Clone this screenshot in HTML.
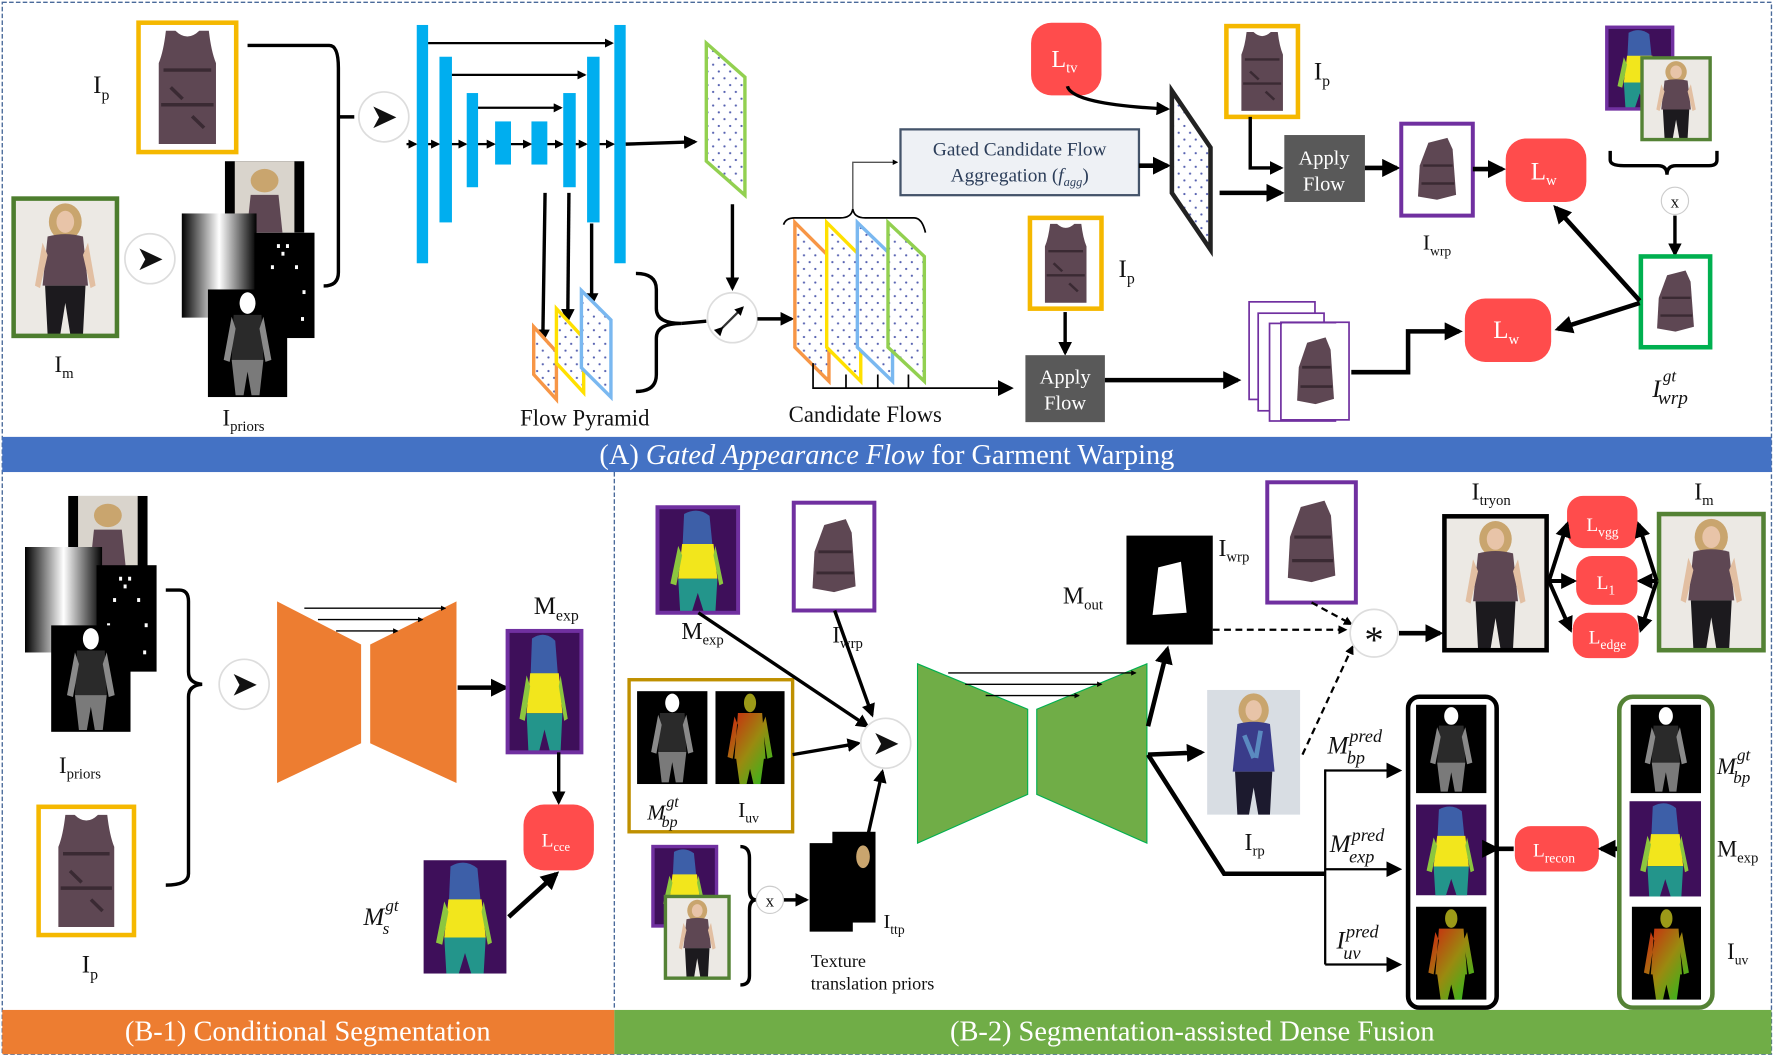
<!DOCTYPE html>
<html><head><meta charset="utf-8"><style>
html,body{margin:0;padding:0;background:#fff;width:1776px;height:1061px;overflow:hidden}
svg{display:block}
text{font-family:"Liberation Serif",serif;fill:#111}
</style></head><body>
<svg width="1776" height="1061" viewBox="0 0 1564 935" preserveAspectRatio="none" xmlns="http://www.w3.org/2000/svg">
<defs>
<marker id="a" viewBox="0 0 10 10" refX="8" refY="5" markerWidth="4" markerHeight="4" orient="auto"><path d="M0,0L10,5L0,10z" fill="#000"/></marker>
<marker id="s" viewBox="0 0 10 10" refX="8" refY="5" markerWidth="7" markerHeight="7" orient="auto"><path d="M0,0L10,5L0,10z" fill="#000"/></marker>
<linearGradient id="uvg" x1="0" y1="0" x2="1" y2="1"><stop offset="0" stop-color="#d02010"/><stop offset=".5" stop-color="#9a8a10"/><stop offset="1" stop-color="#20c020"/></linearGradient>
<linearGradient id="wg" x1="0" x2="1"><stop offset="0" stop-color="#000"/><stop offset=".5" stop-color="#fff"/><stop offset="1" stop-color="#000"/></linearGradient>
<symbol id="garm" viewBox="0 0 80 110" preserveAspectRatio="none"><rect width="80" height="110" fill="#fff"/><path d="M22,6 L30,6 Q40,16 50,6 L58,6 Q60,24 64,34 L64,104 L16,104 L16,34 Q20,24 22,6z" fill="#5e4753"/><path d="M20,40 H60 M18,70 H62 M26,55 l10,10 M44,80 l10,10" stroke="#3a2a33" stroke-width="3"/></symbol>
<symbol id="model" viewBox="0 0 80 110" preserveAspectRatio="none"><rect width="80" height="110" fill="#ece9e4"/><ellipse cx="40" cy="18" rx="13" ry="15" fill="#c9a56e"/><ellipse cx="40" cy="18" rx="7" ry="9" fill="#e8c4a8"/><path d="M26,30 Q40,26 54,30 L58,70 L22,70z" fill="#5e4753"/><path d="M22,35 L16,70 L20,72 L26,45z M58,35 L64,70 L60,72 L54,45z" fill="#e2bfa2"/><path d="M24,70 H56 L54,110 H44 L40,84 L36,110 H26z" fill="#1c1a1e"/></symbol>
<symbol id="modelb" viewBox="0 0 80 110" preserveAspectRatio="none"><rect width="80" height="110" fill="#d8dde3"/><ellipse cx="40" cy="18" rx="13" ry="15" fill="#c9a56e"/><ellipse cx="40" cy="18" rx="7" ry="9" fill="#e8c4a8"/><path d="M26,30 Q40,26 54,30 L58,72 L22,72z" fill="#3a3c8a"/><path d="M32,40 l8,20 M46,36 l-4,24" stroke="#5a8ac0" stroke-width="4"/><path d="M24,72 H56 L54,110 H44 L40,86 L36,110 H26z" fill="#1c1a2e"/></symbol>
<symbol id="seg" viewBox="0 0 80 110" preserveAspectRatio="none"><rect width="80" height="110" fill="#3e0f5a"/><path d="M26,6 Q40,-2 52,8 L56,50 L24,50z" fill="#3d5fa8"/><path d="M24,38 L56,38 L60,75 L20,75z" fill="#f2e61c"/><path d="M20,40 L12,80 L18,82 L24,50z M58,40 L66,80 L62,82 L56,50z" fill="#8cc63f"/><path d="M20,75 H60 L58,110 H46 L40,90 L34,110 H22z" fill="#23958b"/></symbol>
<symbol id="sil" viewBox="0 0 80 110" preserveAspectRatio="none"><rect width="80" height="110" fill="#000"/><ellipse cx="40" cy="14" rx="8" ry="11" fill="#fff"/><path d="M26,26 H54 L56,72 L24,72z" fill="#2a2a2a"/><path d="M24,28 L16,72 L22,74 L28,40z M56,28 L64,72 L58,74 L52,40z" fill="#8a8a8a"/><path d="M24,72 H56 L52,108 H44 L40,84 L36,108 H28z" fill="#7a7a7a"/></symbol>
<symbol id="uv" viewBox="0 0 80 110" preserveAspectRatio="none"><rect width="80" height="110" fill="#000"/><ellipse cx="40" cy="14" rx="7" ry="11" fill="#9c9a18"/><path d="M26,26 H54 L58,80 L22,80z M22,30 L14,78 L20,80 L26,40z M58,30 L66,78 L60,80 L54,40z M24,80 H56 L52,110 H44 L40,92 L36,110 H28z" fill="url(#uvg)"/></symbol>
<symbol id="warp" viewBox="0 0 80 110" preserveAspectRatio="none"><rect width="80" height="110" fill="#fff"/><path d="M30,22 L52,16 L58,30 L62,86 L40,92 L18,88 L20,50z" fill="#5e4753"/><path d="M24,50 H58 M22,72 H60" stroke="#3a2a33" stroke-width="3"/></symbol>
<symbol id="photo" viewBox="0 0 80 110" preserveAspectRatio="none"><rect width="80" height="110" fill="#000"/><rect x="10" y="0" width="60" height="110" fill="#d9d4cc"/><ellipse cx="40" cy="30" rx="14" ry="18" fill="#c9a56e"/><path d="M26,52 H54 L58,110 H22z" fill="#5e4753"/></symbol>
<symbol id="dots" viewBox="0 0 80 110" preserveAspectRatio="none"><rect width="80" height="110" fill="#000"/><g fill="#fff"><rect x="30" y="12" width="4" height="4"/><rect x="42" y="12" width="4" height="4"/><rect x="36" y="20" width="4" height="4"/><rect x="22" y="34" width="4" height="4"/><rect x="54" y="34" width="4" height="4"/><rect x="14" y="60" width="4" height="4"/><rect x="64" y="60" width="4" height="4"/><rect x="36" y="70" width="4" height="4"/><rect x="62" y="88" width="4" height="4"/></g></symbol>
<symbol id="grad" viewBox="0 0 80 110" preserveAspectRatio="none"><rect width="80" height="110" fill="url(#wg)"/></symbol>
<pattern id="dp" width="10" height="12" patternUnits="userSpaceOnUse"><rect width="10" height="12" fill="#fff"/><circle cx="3" cy="3" r="1" fill="#5560b0"/><circle cx="8" cy="9" r="1" fill="#5560b0"/></pattern>
</defs>

<!-- borders / bars -->
<rect x="2" y="2" width="1558" height="927" fill="none" stroke="#4a6a9a" stroke-width="1.2" stroke-dasharray="4,2"/>
<line x1="541" y1="416" x2="541" y2="890" stroke="#4a6a9a" stroke-width="1.2" stroke-dasharray="4,2"/>
<rect x="2" y="385" width="1558" height="31" fill="#4472C4"/>
<text x="781" y="409" font-size="25" text-anchor="middle" style="fill:#fff">(A) <tspan font-style="italic" style="fill:#fff">Gated Appearance Flow</tspan> for Garment Warping</text>
<rect x="2" y="890" width="539" height="39" fill="#ED7D31"/>
<text x="271" y="917" font-size="25" text-anchor="middle" style="fill:#fff">(B-1) Conditional Segmentation</text>
<rect x="541" y="890" width="1019" height="39" fill="#70AD47"/>
<text x="1050" y="917" font-size="25" text-anchor="middle" style="fill:#fff">(B-2) Segmentation-assisted Dense Fusion</text>

<!-- ===== Section A ===== -->
<use href="#garm" x="123" y="21" width="84" height="112"/>
<rect x="122" y="20" width="86" height="114" fill="none" stroke="#f5b800" stroke-width="4"/>
<text x="82" y="82" font-size="22">I<tspan font-size="14" dy="6">p</tspan></text>
<use href="#model" x="13" y="176" width="89" height="119"/>
<rect x="12" y="175" width="91" height="121" fill="none" stroke="#4d7d2e" stroke-width="4"/>
<text x="48" y="328" font-size="20">I<tspan font-size="13" dy="5">m</tspan></text>
<circle cx="132" cy="228" r="22" fill="#fff" stroke="#ddd" stroke-width="1.5"/>
<text x="132" y="238" font-size="30" text-anchor="middle">➤</text>
<use href="#photo" x="198" y="142" width="70" height="63"/>
<use href="#grad" x="160" y="188" width="66" height="92"/>
<use href="#dots" x="224" y="205" width="53" height="93"/>
<use href="#sil" x="183" y="255" width="70" height="95"/>
<text x="196" y="375" font-size="20">I<tspan font-size="13" dy="5">priors</tspan></text>
<path d="M218,40 H290 Q298,40 298,60 V240 Q298,252 285,252" fill="none" stroke="#000" stroke-width="3"/>
<path d="M298,103 H312" stroke="#000" stroke-width="3"/>
<circle cx="338" cy="103" r="22" fill="#fff" stroke="#ddd" stroke-width="1.5"/>
<text x="338" y="113" font-size="30" text-anchor="middle">➤</text>
<!-- UNet blue -->
<g fill="#00AEEF">
<rect x="367" y="22" width="10" height="210"/><rect x="387" y="50" width="11" height="146"/><rect x="411" y="82" width="10" height="83"/><rect x="436" y="107" width="14" height="38"/>
<rect x="468" y="107" width="14" height="38"/><rect x="496" y="82" width="11" height="83"/><rect x="517" y="50" width="11" height="146"/><rect x="541" y="22" width="10" height="210"/></g>
<g stroke="#000" stroke-width="2" marker-end="url(#a)">
<line x1="377" y1="38" x2="539" y2="38"/><line x1="398" y1="66" x2="515" y2="66"/><line x1="421" y1="95" x2="494" y2="95"/>
<line x1="358" y1="127" x2="366" y2="127"/><line x1="377" y1="127" x2="386" y2="127"/><line x1="398" y1="127" x2="410" y2="127"/><line x1="421" y1="127" x2="435" y2="127"/><line x1="450" y1="127" x2="467" y2="127"/><line x1="482" y1="127" x2="495" y2="127"/><line x1="507" y1="127" x2="516" y2="127"/><line x1="528" y1="127" x2="540" y2="127"/>
</g>
<line x1="551" y1="127" x2="612" y2="125" stroke="#000" stroke-width="3" marker-end="url(#a)"/>
<polygon points="622,38 656,68 656,172 622,142" fill="url(#dp)" stroke="#92d050" stroke-width="3"/>
<!-- flow pyramid -->
<g stroke="#000" stroke-width="3" marker-end="url(#a)"><line x1="480" y1="170" x2="478" y2="300"/><line x1="501" y1="170" x2="500" y2="282"/><line x1="521" y1="197" x2="521" y2="268"/></g>
<polygon points="470,288 490,310 490,352 470,330" fill="url(#dp)" stroke="#f79646" stroke-width="3"/>
<polygon points="490,272 514,298 514,346 490,320" fill="url(#dp)" stroke="#ffe000" stroke-width="3"/>
<polygon points="512,256 538,282 538,350 512,324" fill="url(#dp)" stroke="#7ab8f0" stroke-width="3"/>
<path d="M560,241 Q578,241 578,255 V272 Q578,285 600,285 Q578,285 578,298 V330 Q578,345 560,345" fill="none" stroke="#000" stroke-width="3"/>
<text x="515" y="375" font-size="20" text-anchor="middle">Flow Pyramid</text>
<line x1="600" y1="285" x2="622" y2="283" stroke="#000" stroke-width="3"/>
<line x1="645" y1="180" x2="645" y2="254" stroke="#000" stroke-width="3" marker-end="url(#a)"/>
<circle cx="645" cy="280" r="22" fill="#fff" stroke="#ddd" stroke-width="1.5"/>
<path d="M636,289 L654,271" stroke="#333" stroke-width="2" marker-end="url(#a)" marker-start="url(#a)"/>
<line x1="667" y1="281" x2="697" y2="281" stroke="#000" stroke-width="3" marker-end="url(#a)"/>
<!-- candidate flows -->
<polygon points="700,196 730,226 730,336 700,306" fill="url(#dp)" stroke="#f79646" stroke-width="3"/>
<polygon points="728,196 758,226 758,336 728,306" fill="url(#dp)" stroke="#ffe000" stroke-width="3"/>
<polygon points="755,196 786,226 786,336 755,306" fill="url(#dp)" stroke="#7ab8f0" stroke-width="3"/>
<polygon points="782,196 814,226 814,336 782,306" fill="url(#dp)" stroke="#92d050" stroke-width="3"/>
<path d="M690,198 Q692,192 700,192 H740 Q750,192 751,184 Q752,192 762,192 H805 Q812,192 815,205" fill="none" stroke="#000" stroke-width="1.5"/>
<path d="M751,184 V143 H790" fill="none" stroke="#555" stroke-width="1.2" marker-end="url(#a)"/>
<path d="M716,320 V342 H888 M745,330 V342 M773,330 V342 M800,330 V342" fill="none" stroke="#000" stroke-width="1.5"/>
<line x1="880" y1="342" x2="890" y2="342" stroke="#000" stroke-width="2" marker-end="url(#s)"/>
<text x="762" y="372" font-size="20" text-anchor="middle">Candidate Flows</text>
<rect x="793" y="114" width="210" height="58" fill="#eef1f5" stroke="#44546a" stroke-width="2"/>
<text x="898" y="137" font-size="17" text-anchor="middle" style="fill:#2c3e5a">Gated Candidate Flow</text>
<text x="898" y="160" font-size="17" text-anchor="middle" style="fill:#2c3e5a">Aggregation (<tspan font-style="italic" style="fill:#2c3e5a">f<tspan font-size="11" dy="4" style="fill:#2c3e5a">agg</tspan></tspan><tspan dy="-4" style="fill:#2c3e5a">)</tspan></text>
<line x1="1003" y1="146" x2="1028" y2="146" stroke="#000" stroke-width="4" marker-end="url(#a)"/>
<polygon points="1032,80 1066,130 1066,220 1032,170" fill="url(#dp)" stroke="#222" stroke-width="4"/>
<rect x="908" y="20" width="62" height="64" rx="18" fill="#ff4c4c"/>
<text x="926" y="59" font-size="21" style="fill:#fff">L<tspan font-size="13" dy="5" style="fill:#fff">tv</tspan></text>
<path d="M940,76 Q944,92 1028,96" fill="none" stroke="#000" stroke-width="3" marker-end="url(#a)"/>
<use href="#garm" x="1081" y="24" width="61" height="78"/>
<rect x="1080" y="23" width="63" height="80" fill="none" stroke="#f5b800" stroke-width="4"/>
<text x="1157" y="70" font-size="22">I<tspan font-size="14" dy="6">p</tspan></text>
<path d="M1101,103 V148 H1128" fill="none" stroke="#000" stroke-width="3" marker-end="url(#a)"/>
<line x1="1074" y1="170" x2="1128" y2="170" stroke="#000" stroke-width="4" marker-end="url(#a)"/>
<rect x="1131" y="119" width="71" height="59" fill="#595959"/>
<text x="1166" y="145" font-size="18" text-anchor="middle" style="fill:#fff">Apply</text>
<text x="1166" y="168" font-size="18" text-anchor="middle" style="fill:#fff">Flow</text>
<line x1="1202" y1="148" x2="1230" y2="148" stroke="#000" stroke-width="4" marker-end="url(#a)"/>
<use href="#warp" x="1235" y="110" width="61" height="79"/>
<rect x="1234" y="109" width="63" height="81" fill="none" stroke="#7030a0" stroke-width="3.5"/>
<text x="1253" y="220" font-size="19">I<tspan font-size="12" dy="5">wrp</tspan></text>
<line x1="1297" y1="149" x2="1323" y2="149" stroke="#000" stroke-width="4" marker-end="url(#a)"/>
<rect x="1326" y="122" width="71" height="56" rx="18" fill="#ff4c4c"/>
<text x="1348" y="158" font-size="22" style="fill:#fff">L<tspan font-size="13" dy="5" style="fill:#fff">w</tspan></text>
<!-- top right -->
<use href="#seg" x="1416" y="25" width="56" height="70"/>
<rect x="1415" y="24" width="58" height="72" fill="none" stroke="#7030a0" stroke-width="3"/>
<use href="#model" x="1447" y="52" width="58" height="70"/>
<rect x="1446" y="51" width="60" height="72" fill="none" stroke="#548235" stroke-width="3"/>
<path d="M1418,133 V141 Q1418,146 1430,146 H1460 Q1468,146 1468,154 Q1468,146 1476,146 H1505 Q1512,146 1512,141 V133" fill="none" stroke="#000" stroke-width="3"/>
<circle cx="1475" cy="177" r="12" fill="#fff" stroke="#ccc"/>
<text x="1475" y="183" font-size="15" text-anchor="middle" font-family="Liberation Sans">x</text>
<line x1="1475" y1="190" x2="1475" y2="224" stroke="#000" stroke-width="3" marker-end="url(#a)"/>
<use href="#warp" x="1446" y="227" width="59" height="78"/>
<rect x="1445" y="226" width="61" height="80" fill="none" stroke="#00b050" stroke-width="4"/>
<text x="1455" y="350" font-size="22" font-style="italic">I<tspan font-size="15" dx="2" dy="-14">gt</tspan><tspan font-size="17" dx="-16" dy="20">wrp</tspan></text>
<line x1="1444" y1="265" x2="1370" y2="183" stroke="#000" stroke-width="4" marker-end="url(#a)"/>
<line x1="1444" y1="267" x2="1372" y2="290" stroke="#000" stroke-width="4" marker-end="url(#a)"/>
<rect x="1290" y="263" width="76" height="56" rx="18" fill="#ff4c4c"/>
<text x="1315" y="298" font-size="22" style="fill:#fff">L<tspan font-size="13" dy="5" style="fill:#fff">w</tspan></text>
<use href="#garm" x="908" y="193" width="61" height="78"/>
<rect x="907" y="192" width="63" height="80" fill="none" stroke="#f5b800" stroke-width="4"/>
<text x="985" y="244" font-size="22">I<tspan font-size="14" dy="6">p</tspan></text>
<line x1="938" y1="275" x2="938" y2="311" stroke="#000" stroke-width="3" marker-end="url(#a)"/>
<rect x="903" y="313" width="70" height="59" fill="#595959"/>
<text x="938" y="338" font-size="18" text-anchor="middle" style="fill:#fff">Apply</text>
<text x="938" y="361" font-size="18" text-anchor="middle" style="fill:#fff">Flow</text>
<line x1="973" y1="335" x2="1090" y2="335" stroke="#000" stroke-width="4" marker-end="url(#a)"/>
<g stroke="#7030a0" stroke-width="1.5"><rect x="1100" y="266" width="58" height="86" fill="#fff"/><rect x="1108" y="276" width="58" height="86" fill="#fff"/><rect x="1118" y="285" width="58" height="86" fill="#fff"/></g>
<use href="#warp" x="1129" y="285" width="59" height="85"/>
<rect x="1128" y="284" width="60" height="86" fill="none" stroke="#7030a0" stroke-width="1.5"/>
<path d="M1190,328 H1240 V292 H1285" fill="none" stroke="#000" stroke-width="4" marker-end="url(#a)"/>

<!-- ===== B-1 ===== -->
<use href="#photo" x="60" y="437" width="70" height="63"/>
<use href="#grad" x="22" y="482" width="68" height="93"/>
<use href="#dots" x="85" y="498" width="53" height="94"/>
<use href="#sil" x="45" y="551" width="70" height="94"/>
<text x="52" y="681" font-size="20">I<tspan font-size="13" dy="5">priors</tspan></text>
<use href="#garm" x="35" y="712" width="82" height="111"/>
<rect x="34" y="711" width="84" height="113" fill="none" stroke="#f5b800" stroke-width="4"/>
<text x="72" y="857" font-size="22">I<tspan font-size="14" dy="6">p</tspan></text>
<path d="M146,520 H158 Q166,520 166,530 V592 Q166,602 178,603 Q166,604 166,614 V770 Q166,780 146,780" fill="none" stroke="#000" stroke-width="3"/>
<circle cx="215" cy="603" r="22" fill="#fff" stroke="#ddd" stroke-width="1.5"/>
<text x="215" y="613" font-size="30" text-anchor="middle">➤</text>
<polygon points="244,530 318,568 318,655 244,690" fill="#ED7D31"/>
<polygon points="402,530 326,568 326,655 402,690" fill="#ED7D31"/>
<g stroke="#000" stroke-width="1.2" marker-end="url(#a)"><line x1="268" y1="536" x2="392" y2="536"/><line x1="280" y1="546" x2="372" y2="546"/><line x1="296" y1="556" x2="350" y2="556"/></g>
<line x1="403" y1="606" x2="445" y2="606" stroke="#000" stroke-width="4" marker-end="url(#a)"/>
<use href="#seg" x="448" y="557" width="63" height="105"/>
<rect x="447" y="556" width="65" height="107" fill="none" stroke="#7030a0" stroke-width="3.5"/>
<text x="470" y="541" font-size="22">M<tspan font-size="14" dy="6">exp</tspan></text>
<line x1="492" y1="663" x2="492" y2="707" stroke="#000" stroke-width="3" marker-end="url(#a)"/>
<rect x="461" y="709" width="62" height="58" rx="18" fill="#ff4c4c"/>
<text x="477" y="746" font-size="17" style="fill:#fff">L<tspan font-size="11" dy="4" style="fill:#fff">cce</tspan></text>
<use href="#seg" x="373" y="758" width="73" height="100"/>
<text x="320" y="815" font-size="22" font-style="italic">M<tspan font-size="15" dx="1" dy="-12">gt</tspan><tspan font-size="15" dx="-14" dy="20">s</tspan></text>
<line x1="448" y1="808" x2="490" y2="770" stroke="#000" stroke-width="4" marker-end="url(#a)"/>

<!-- ===== B-2 ===== -->
<use href="#seg" x="580" y="448" width="69" height="91"/>
<rect x="579" y="447" width="71" height="93" fill="none" stroke="#7030a0" stroke-width="3.5"/>
<text x="600" y="563" font-size="21">M<tspan font-size="13" dy="5">exp</tspan></text>
<use href="#warp" x="700" y="444" width="69" height="93"/>
<rect x="699" y="443" width="71" height="95" fill="none" stroke="#7030a0" stroke-width="3.5"/>
<text x="733" y="566" font-size="20">I<tspan font-size="13" dy="5">wrp</tspan></text>
<rect x="554" y="599" width="144" height="134" fill="none" stroke="#bf9000" stroke-width="3"/>
<use href="#sil" x="561" y="609" width="62" height="82"/>
<use href="#uv" x="630" y="609" width="61" height="82"/>
<text x="570" y="722" font-size="19" font-style="italic">M<tspan font-size="14" dx="1" dy="-11">gt</tspan><tspan font-size="14" dx="-15" dy="18">bp</tspan></text>
<text x="650" y="720" font-size="19">I<tspan font-size="12" dy="5">uv</tspan></text>
<g stroke="#000" stroke-width="3" marker-end="url(#a)">
<line x1="615" y1="540" x2="764" y2="640"/><line x1="735" y1="538" x2="768" y2="630"/><line x1="698" y1="665" x2="756" y2="655"/><line x1="760" y1="755" x2="777" y2="680"/>
<line x1="690" y1="793" x2="710" y2="793"/></g>
<circle cx="780" cy="655" r="22" fill="#fff" stroke="#ddd" stroke-width="1.5"/>
<text x="780" y="665" font-size="30" text-anchor="middle">➤</text>
<use href="#seg" x="576" y="747" width="54" height="68"/>
<rect x="575" y="746" width="56" height="70" fill="none" stroke="#7030a0" stroke-width="3"/>
<use href="#model" x="587" y="791" width="54" height="70"/>
<rect x="586" y="790" width="56" height="72" fill="none" stroke="#548235" stroke-width="3"/>
<path d="M652,746 Q660,746 660,756 V784 Q660,793 666,793 Q660,793 660,802 V860 Q660,868 652,868" fill="none" stroke="#000" stroke-width="3"/>
<circle cx="678" cy="793" r="12" fill="#fff" stroke="#ccc"/>
<text x="678" y="799" font-size="15" text-anchor="middle" font-family="Liberation Sans">x</text>
<rect x="713" y="743" width="38" height="78" fill="#000"/>
<rect x="733" y="733" width="38" height="80" fill="#000"/>
<ellipse cx="760" cy="755" rx="6" ry="10" fill="#c9a56e"/>
<text x="778" y="818" font-size="18">I<tspan font-size="12" dy="5">ttp</tspan></text>
<text x="714" y="852" font-size="16">Texture</text>
<text x="714" y="872" font-size="16">translation priors</text>
<!-- green unet -->
<polygon points="808,585 905,625 905,700 808,743" fill="#70AD47" stroke="#00b050" stroke-width="1"/>
<polygon points="1010,585 913,625 913,700 1010,743" fill="#70AD47" stroke="#00b050" stroke-width="1"/>
<g stroke="#000" stroke-width="1.2" marker-end="url(#a)"><line x1="835" y1="593" x2="1000" y2="593"/><line x1="850" y1="603" x2="970" y2="603"/><line x1="868" y1="613" x2="950" y2="613"/></g>
<line x1="1011" y1="640" x2="1028" y2="572" stroke="#000" stroke-width="4" marker-end="url(#a)"/>
<rect x="992" y="472" width="76" height="96" fill="#000"/>
<path d="M1020,500 L1040,495 L1045,540 L1015,542z" fill="#fff"/>
<text x="936" y="532" font-size="21">M<tspan font-size="13" dy="5">out</tspan></text>
<use href="#warp" x="1117" y="426" width="76" height="104"/>
<rect x="1116" y="425" width="78" height="106" fill="none" stroke="#7030a0" stroke-width="3.5"/>
<text x="1073" y="490" font-size="21">I<tspan font-size="13" dy="5">wrp</tspan></text>
<g stroke="#000" stroke-width="2" stroke-dasharray="6,4" fill="none">
<line x1="1068" y1="555" x2="1185" y2="555" marker-end="url(#a)"/><line x1="1155" y1="531" x2="1190" y2="550" marker-end="url(#a)"/><line x1="1147" y1="665" x2="1191" y2="570" marker-end="url(#a)"/></g>
<circle cx="1210" cy="558" r="21" fill="#fff" stroke="#ddd" stroke-width="1.5"/>
<text x="1210" y="575" font-size="34" text-anchor="middle">*</text>
<line x1="1232" y1="558" x2="1268" y2="558" stroke="#000" stroke-width="4" marker-end="url(#a)"/>
<use href="#modelb" x="1063" y="608" width="82" height="110"/>
<line x1="1011" y1="665" x2="1058" y2="663" stroke="#000" stroke-width="4" marker-end="url(#a)"/>
<text x="1096" y="749" font-size="21">I<tspan font-size="13" dy="5">rp</tspan></text>
<path d="M1011,665 L1078,770 H1167" fill="none" stroke="#000" stroke-width="4"/>
<path d="M1167,678 V850" fill="none" stroke="#000" stroke-width="2"/>
<g stroke="#000" stroke-width="2" marker-end="url(#s)"><line x1="1167" y1="679" x2="1232" y2="679"/><line x1="1167" y1="766" x2="1232" y2="766"/><line x1="1167" y1="850" x2="1232" y2="850"/></g>
<text x="1169" y="664" font-size="22" font-style="italic">M<tspan font-size="16" dx="1" dy="-10">pred</tspan><tspan font-size="16" dx="-31" dy="19">bp</tspan></text>
<text x="1171" y="751" font-size="22" font-style="italic">M<tspan font-size="16" dx="1" dy="-10">pred</tspan><tspan font-size="16" dx="-31" dy="19">exp</tspan></text>
<text x="1177" y="836" font-size="22" font-style="italic">I<tspan font-size="16" dx="1" dy="-10">pred</tspan><tspan font-size="16" dx="-31" dy="19">uv</tspan></text>
<rect x="1240" y="614" width="78" height="274" rx="10" fill="none" stroke="#000" stroke-width="4"/>
<use href="#sil" x="1247" y="621" width="62" height="78"/>
<use href="#seg" x="1247" y="709" width="62" height="80"/>
<use href="#uv" x="1247" y="799" width="62" height="82"/>
<line x1="1318" y1="748" x2="1333" y2="748" stroke="#000" stroke-width="4" marker-start="url(#a)"/>
<rect x="1334" y="728" width="74" height="40" rx="14" fill="#ff4c4c"/>
<text x="1350" y="755" font-size="17" style="fill:#fff">L<tspan font-size="12" dy="5" style="fill:#fff">recon</tspan></text>
<line x1="1425" y1="748" x2="1410" y2="748" stroke="#000" stroke-width="4" marker-end="url(#a)"/>
<rect x="1426" y="614" width="82" height="274" rx="12" fill="none" stroke="#548235" stroke-width="4"/>
<use href="#sil" x="1436" y="621" width="62" height="78"/>
<use href="#seg" x="1435" y="706" width="63" height="84"/>
<use href="#uv" x="1437" y="799" width="61" height="82"/>
<text x="1512" y="682" font-size="20" font-style="italic">M<tspan font-size="15" dx="1" dy="-12">gt</tspan><tspan font-size="15" dx="-15" dy="20">bp</tspan></text>
<text x="1512" y="755" font-size="20">M<tspan font-size="13" dy="5">exp</tspan></text>
<text x="1521" y="845" font-size="20">I<tspan font-size="12" dy="5">uv</tspan></text>
<use href="#model" x="1273" y="456" width="88" height="116"/>
<rect x="1272" y="455" width="90" height="118" fill="none" stroke="#000" stroke-width="4"/>
<text x="1296" y="440" font-size="21">I<tspan font-size="13" dy="5">tryon</tspan></text>
<use href="#model" x="1462" y="454" width="90" height="118"/>
<rect x="1461" y="453" width="92" height="120" fill="none" stroke="#548235" stroke-width="4"/>
<text x="1492" y="440" font-size="21">I<tspan font-size="13" dy="5">m</tspan></text>
<rect x="1380" y="437" width="62" height="46" rx="14" fill="#ff4c4c"/>
<text x="1397" y="468" font-size="17" style="fill:#fff">L<tspan font-size="12" dy="5" style="fill:#fff">vgg</tspan></text>
<rect x="1388" y="490" width="54" height="43" rx="14" fill="#ff4c4c"/>
<text x="1406" y="519" font-size="17" style="fill:#fff">L<tspan font-size="12" dy="5" style="fill:#fff">1</tspan></text>
<rect x="1385" y="540" width="58" height="40" rx="14" fill="#ff4c4c"/>
<text x="1399" y="567" font-size="17" style="fill:#fff">L<tspan font-size="12" dy="5" style="fill:#fff">edge</tspan></text>
<g stroke="#000" stroke-width="3.5" marker-end="url(#a)">
<line x1="1364" y1="512" x2="1380" y2="462"/><line x1="1364" y1="512" x2="1386" y2="512"/><line x1="1364" y1="512" x2="1383" y2="555"/>
<line x1="1459" y1="512" x2="1443" y2="462"/><line x1="1459" y1="512" x2="1444" y2="512"/><line x1="1459" y1="512" x2="1445" y2="555"/></g>
</svg>
</body></html>
